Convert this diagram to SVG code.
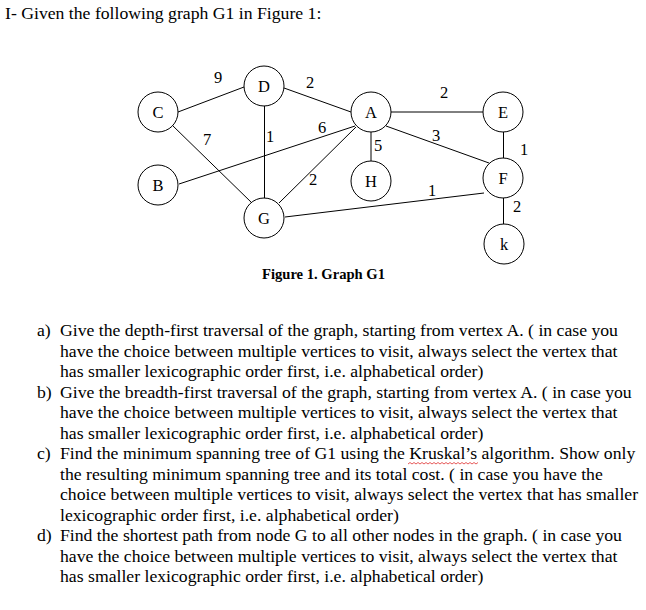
<svg xmlns="http://www.w3.org/2000/svg" width="646" height="610" viewBox="0 0 646 610">
<style>
text{font-family:"Liberation Serif","Times New Roman",serif;fill:#000}
.t{font-size:17.7px}
.n{font-size:16.5px;text-anchor:middle}
.w{font-size:16.5px;text-anchor:middle}
.cap{font-size:14.6px;font-weight:bold}
.node circle{fill:#fff;stroke:#000;stroke-width:1}
#edges line{stroke:#000;stroke-width:1}
</style>
<rect width="646" height="610" fill="#fff"/>
<text class="t" x="5" y="19">I- Given the following graph G1 in Figure 1:</text>
<g id="edges">
<line x1="178" y1="112" x2="244" y2="87"/>
<line x1="284" y1="88" x2="351" y2="112"/>
<line x1="264.5" y1="106" x2="264.5" y2="198"/>
<line x1="172" y1="125" x2="252" y2="203"/>
<line x1="179" y1="184" x2="355" y2="126"/>
<line x1="279" y1="203" x2="356" y2="127"/>
<line x1="391" y1="112" x2="483" y2="112"/>
<line x1="386" y1="126" x2="489" y2="163"/>
<line x1="371" y1="132" x2="371" y2="161"/>
<line x1="503.5" y1="132" x2="503.5" y2="158"/>
<line x1="285" y1="217" x2="484" y2="193"/>
<line x1="503.5" y1="198" x2="503.5" y2="224"/>
<text class="w" x="218" y="83">9</text>
<text class="w" x="310" y="88">2</text>
<text class="w" x="270" y="142">1</text>
<text class="w" x="207" y="145">7</text>
<text class="w" x="322" y="133">6</text>
<text class="w" x="313" y="185">2</text>
<text class="w" x="444" y="98">2</text>
<text class="w" x="436" y="141">3</text>
<text class="w" x="378" y="151">5</text>
<text class="w" x="524" y="155">1</text>
<text class="w" x="432" y="196">1</text>
<text class="w" x="517" y="212">2</text>
</g>
<g id="node-C" class="node"><circle cx="158" cy="112" r="20"/><text class="n" x="158" y="117.5">C</text></g>
<g id="node-D" class="node"><circle cx="264" cy="86" r="20"/><text class="n" x="264" y="91.5">D</text></g>
<g id="node-A" class="node"><circle cx="371" cy="112" r="20"/><text class="n" x="371" y="117.5">A</text></g>
<g id="node-E" class="node"><circle cx="503" cy="112" r="20"/><text class="n" x="503" y="117.5">E</text></g>
<g id="node-B" class="node"><circle cx="158" cy="185" r="20"/><text class="n" x="158" y="190.5">B</text></g>
<g id="node-H" class="node"><circle cx="371" cy="181" r="20"/><text class="n" x="371" y="186.5">H</text></g>
<g id="node-F" class="node"><circle cx="503" cy="178" r="20"/><text class="n" x="503" y="183.5">F</text></g>
<g id="node-G" class="node"><circle cx="264" cy="218" r="20"/><text class="n" x="264" y="223.5">G</text></g>
<g id="node-k" class="node"><circle cx="504" cy="244" r="20"/><text class="n" x="504" y="249.5">k</text></g>
<text class="cap" x="262" y="279">Figure 1. Graph G1</text>
<g id="questions">
<text class="t" x="37" y="336">a)</text>
<text class="t" x="60" y="336">Give the depth-first traversal of the graph, starting from vertex A. ( in case you</text>
<text class="t" x="60" y="356.5">have the choice between multiple vertices to visit, always select the vertex that</text>
<text class="t" x="60" y="377">has smaller lexicographic order first, i.e. alphabetical order)</text>
<text class="t" x="37" y="397.5">b)</text>
<text class="t" x="60" y="397.5">Give the breadth-first traversal of the graph, starting from vertex A. ( in case you</text>
<text class="t" x="60" y="418">have the choice between multiple vertices to visit, always select the vertex that</text>
<text class="t" x="60" y="438.5">has smaller lexicographic order first, i.e. alphabetical order)</text>
<text class="t" x="37" y="459">c)</text>
<text class="t" x="60" y="459">Find the minimum spanning tree of G1 using the Kruskal’s algorithm. Show only</text>
<path d="M408 464 l2 -1.5 l2 1.5 l2 -1.5 l2 1.5 l2 -1.5 l2 1.5 l2 -1.5 l2 1.5 l2 -1.5 l2 1.5 l2 -1.5 l2 1.5 l2 -1.5 l2 1.5 l2 -1.5 l2 1.5 l2 -1.5 l2 1.5 l2 -1.5 l2 1.5 l2 -1.5 l2 1.5 l2 -1.5 l2 1.5 l2 -1.5 l2 1.5 l2 -1.5 l2 1.5 l2 -1.5 l2 1.5 l2 -1.5 l2 1.5 l2 -1.5 l2 1.5 l2 -1.5" fill="none" stroke="#e03030" stroke-width="0.8"/>
<text class="t" x="60" y="479.5">the resulting minimum spanning tree and its total cost. ( in case you have the</text>
<text class="t" x="60" y="500">choice between multiple vertices to visit, always select the vertex that has smaller</text>
<text class="t" x="60" y="520.5">lexicographic order first, i.e. alphabetical order)</text>
<text class="t" x="37" y="541">d)</text>
<text class="t" x="60" y="541">Find the shortest path from node G to all other nodes in the graph. ( in case you</text>
<text class="t" x="60" y="561.5">have the choice between multiple vertices to visit, always select the vertex that</text>
<text class="t" x="60" y="582">has smaller lexicographic order first, i.e. alphabetical order)</text>
</g>
</svg>
